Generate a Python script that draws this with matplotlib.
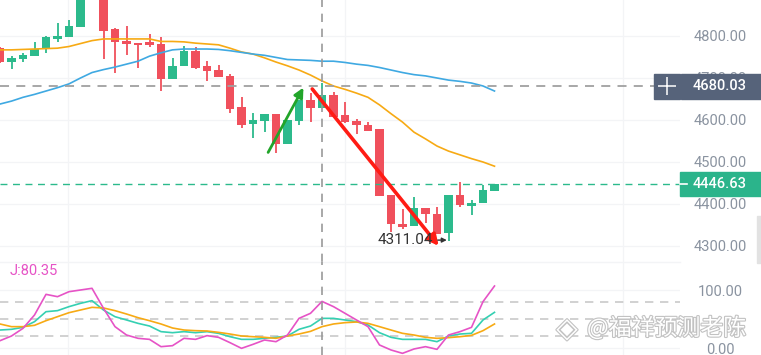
import matplotlib
matplotlib.use('Agg')
import matplotlib.pyplot as plt
import matplotlib.patheffects as pe
from matplotlib.patches import Rectangle
from matplotlib.transforms import blended_transform_factory
import numpy as np

# candles, one per bar index
opens = [4771, 4738, 4745, 4752, 4769, 4793, 4798, 4821, 4905, 4915, 4817, 4788, 4783, 4786, 4781,
         4698, 4729, 4764, 4729, 4719, 4705, 4631, 4590, 4598, 4614, 4543, 4598, 4648, 4629, 4660,
         4612, 4598, 4588, 4579, 4421, 4352, 4348, 4390, 4376, 4331, 4421, 4395, 4402, 4431]
highs = [4773, 4752, 4760, 4786, 4800, 4831, 4838, 4915, 4935, 4930, 4818, 4824, 4784, 4805, 4798,
         4748, 4776, 4774, 4740, 4731, 4710, 4655, 4617, 4614, 4614, 4600, 4648, 4664, 4688, 4667,
         4643, 4602, 4595, 4579, 4421, 4388, 4417, 4390, 4393, 4421, 4452, 4410, 4445, 4447]
lows = [4736, 4721, 4738, 4752, 4760, 4786, 4798, 4821, 4895, 4745, 4712, 4755, 4724, 4774, 4669,
        4698, 4729, 4721, 4693, 4702, 4617, 4581, 4557, 4571, 4521, 4543, 4588, 4595, 4629, 4607,
        4593, 4567, 4574, 4419, 4333, 4340, 4348, 4355, 4329, 4311.04, 4393, 4374, 4402, 4431]
closes = [4738, 4748, 4755, 4769, 4798, 4800, 4824, 4905, 4915, 4812, 4786, 4781, 4779, 4779, 4698,
          4729, 4764, 4724, 4717, 4702, 4626, 4588, 4600, 4614, 4543, 4600, 4648, 4629, 4660, 4607,
          4595, 4588, 4574, 4419, 4352, 4345, 4390, 4376, 4329, 4421, 4398, 4402, 4433, 4446.63]

ma_short = [4767, 4767, 4768, 4769, 4770, 4771, 4775, 4782, 4789, 4793, 4793, 4793, 4793, 4793, 4787,
            4787, 4786, 4783, 4781, 4779, 4771, 4762, 4757, 4748, 4738, 4729, 4719, 4707, 4693, 4681,
            4673, 4664, 4654, 4636, 4615, 4595, 4571, 4555, 4538, 4526, 4517, 4508, 4500, 4490]
ma_long = [4638, 4645, 4654, 4661, 4669, 4677, 4686, 4700, 4713, 4720, 4726, 4733, 4740, 4752, 4760,
           4767, 4769, 4769, 4769, 4768, 4765, 4761, 4757, 4754, 4749, 4744, 4743, 4742, 4740, 4740,
           4737, 4733, 4730, 4725, 4719, 4713, 4708, 4705, 4700, 4695, 4692, 4688, 4681, 4669]

k_vals = [31.0, 32.2, 35.6, 45.4, 62.6, 64.4, 71.3, 77.0, 81.6, 65.5, 54.0, 48.3, 42.5, 37.9, 28.2,
          26.4, 28.2, 26.4, 28.2, 25.3, 19.5, 14.9, 14.9, 16.7, 18.4, 20.7, 32.2, 37.9, 51.1, 51.1,
          48.3, 45.4, 39.7, 26.4, 18.4, 14.9, 14.9, 14.9, 10.9, 20.7, 24.1, 25.3, 48.3, 61.5]
d_vals = [41.4, 36.8, 36.8, 39.1, 47.1, 54.0, 60.9, 65.5, 70.1, 69.0, 64.4, 58.6, 52.3, 47.1, 41.4,
          34.5, 31.0, 29.9, 29.3, 27.0, 24.1, 20.7, 19.5, 18.4, 16.7, 20.7, 24.1, 28.7, 36.8, 41.4,
          43.7, 44.8, 42.5, 36.8, 31.0, 25.3, 22.4, 18.4, 16.7, 17.8, 19.5, 21.8, 29.9, 41.4]
j_vals = [12.6, 20.7, 33.9, 56.9, 92.5, 88.5, 97.1, 100.0, 102.9, 68.4, 36.8, 22.4, 16.7, 14.9, 2.3,
          4.0, 16.7, 14.9, 21.3, 18.4, 9.2, -0.6, 6.3, 13.8, 10.9, 22.4, 51.1, 59.8, 80.35, 71.3,
          59.8, 48.3, 36.8, 5.2, -3.4, -9.2, -1.7, 2.3, -2.3, 22.4, 28.2, 35.6, 79.9, 106.9]

price_ticks = [4300, 4400, 4500, 4600, 4700, 4800]
kdj_ticks = [0, 100]
kdj_levels = [20, 50, 80]
time_grid = [5.9, 30.0, 54.2]

cross_idx = 28
cross_price = 4680.03
last_price = closes[-1]
low_idx = 39
green_arrow = [(23.2, 4517), (26.5, 4683)]
red_arrow = [(27.0, 4679), (38.3, 4295)]

UP = '#2cba8c'
DOWN = '#f0505c'
GRID = '#f3f4f6'
LABEL = '#8a93a0'
FONT = 'Roboto'

W, H = 761, 355
fig = plt.figure(figsize=(W / 100, H / 100), dpi=100)
fig.patch.set_facecolor('white')
ax = fig.add_axes([0, (H - 262) / H, 680 / W, 262 / H])
ax2 = fig.add_axes([0, 0, 680 / W, 93 / H], sharex=ax)

x = np.arange(len(opens))
o = np.array(opens); c = np.array(closes)
cols = [UP if cc >= oo else DOWN for oo, cc in zip(o, c)]
ax.vlines(x, lows, highs, colors=cols, lw=1.3, zorder=3)
ax.bar(x, np.maximum(np.abs(c - o), 2.0), bottom=np.minimum(o, c), width=0.72, color=cols, zorder=4)

ax.plot(x, ma_short, color='#f7aa14', lw=1.2, zorder=5)
ax.plot(x, ma_long, color='#3fa9e2', lw=1.2, zorder=5)

ax.set_xlim(0, 680 / 11.5)
ax.set_ylim(4800 - 226 / 0.42, 4800 + 36 / 0.42)

for a in (ax, ax2):
    for s in a.spines.values():
        s.set_visible(False)
    a.set_xticks(time_grid)
    a.grid(True, color=GRID, lw=0.9)
    a.set_axisbelow(True)
    a.yaxis.tick_right()
    a.tick_params(axis='x', length=0, labelbottom=False)
    a.tick_params(axis='y', length=0, pad=29, labelcolor=LABEL, labelsize=10.5)

ax.set_yticks(price_ticks)
ax.set_yticklabels([f'{t:.2f}' for t in price_ticks], family=FONT)
for lbl in ax.get_yticklabels():
    lbl.set_ha('center')

# crosshair
ax.axvline(cross_idx, color='#999999', lw=1.2, dashes=(5, 4), zorder=6)
ax2.axvline(cross_idx, color='#999999', lw=1.2, dashes=(5, 4), zorder=6)
ax.plot([0, 654 / 11.5], [cross_price, cross_price], color='#a0a0a0', lw=1.3, dashes=(5, 4), zorder=6)

# last price line
ax.axhline(last_price, color=UP, lw=1.0, dashes=(5, 4), zorder=6)

bt = blended_transform_factory(ax.transAxes, ax.transData)
half = 12.5 / 0.42
ax.add_patch(Rectangle((654 / 680, cross_price - half), 25.5 / 680, 2 * half, transform=bt,
                       color='#56637a', clip_on=False, zorder=20))
ax.add_patch(Rectangle((680.5 / 680, cross_price - half), 81 / 680, 2 * half, transform=bt,
                       color='#56637a', clip_on=False, zorder=20))
ax.plot([667 / 680], [cross_price], marker='+', ms=13, mew=1.1, color='white', transform=bt,
        clip_on=False, zorder=21)
ax.text(720 / 680, cross_price, f'{cross_price:.2f}', transform=bt, ha='center', va='center',
        color='white', fontsize=10.5, family=FONT, fontweight='medium', clip_on=False, zorder=21)

half2 = 12.0 / 0.42
ax.add_patch(Rectangle((1.0, last_price - half2), 81 / 680, 2 * half2, transform=bt,
                       color='#2bb48b', clip_on=False, zorder=20))
ax.plot([1.0, 687 / 680], [last_price, last_price], color='white', lw=1.2, transform=bt,
        clip_on=False, zorder=21)
ax.text(720 / 680, last_price, f'{last_price:.2f}', transform=bt, ha='center', va='center',
        color='white', fontsize=10.5, family=FONT, fontweight='medium', clip_on=False, zorder=21)

# drawn arrows
ax.annotate('', xy=green_arrow[1], xytext=green_arrow[0],
            arrowprops=dict(arrowstyle='-|>', color='#22a52a', lw=2.0, mutation_scale=14), zorder=8)
ax.annotate('', xy=red_arrow[1], xytext=red_arrow[0],
            arrowprops=dict(arrowstyle='-|>', color='#ff1c14', lw=2.6, mutation_scale=16), zorder=8)

# lowest low marker
ax.annotate(f'{lows[low_idx]:.2f}', xy=(low_idx - 0.15, lows[low_idx] + 3),
            xytext=(low_idx - 1.3, lows[low_idx] + 3), ha='right', va='center',
            fontsize=11, family=FONT, color='#333333',
            arrowprops=dict(arrowstyle='-|>', color='#333333', lw=1.0, mutation_scale=7,
                            shrinkA=1, shrinkB=0), zorder=9)

# KDJ panel
ax2.plot(x, k_vals, color='#35d0b2', lw=1.2, zorder=5)
ax2.plot(x, d_vals, color='#f7aa14', lw=1.2, zorder=5)
ax2.plot(x, j_vals, color='#e653c6', lw=1.2, zorder=5)
for lv in kdj_levels:
    ax2.axhline(lv, color='#c9c9c9', lw=1.2, dashes=(5, 4), zorder=2)
ax2.set_ylim((348 - 355) / 0.58, (348 - 262) / 0.58)
ax2.set_yticks(kdj_ticks)
ax2.set_yticklabels([f'{t:.2f}' for t in kdj_ticks], family=FONT)
for lbl in ax2.get_yticklabels():
    lbl.set_ha('center')
ax2.axhline(ax2.get_ylim()[1], color=GRID, lw=1.0, clip_on=False)
ax2.text(10 / 680, 1 - 9 / 93, f'J:{j_vals[cross_idx]:.2f}', transform=ax2.transAxes,
         ha='left', va='center', color='#e653c6', fontsize=10.5, family=FONT)

# watermark
outline = [pe.withStroke(linewidth=1.6, foreground='#c2c2c2')]
fig.text(567 / W, 1 - 329 / H, '◈', ha='center', va='center', fontsize=20, color='white',
         family=['DejaVu Sans'], path_effects=outline)
fig.text(587 / W, 1 - 328 / H, '@福祥预测老陈', ha='left', va='center', fontsize=16.5, color='white',
         family=['Noto Sans CJK SC', 'DejaVu Sans'], path_effects=outline)

fig.patches.append(Rectangle((757 / W, 1 - 263 / H), 6 / W, 47 / H, transform=fig.transFigure,
                             color='#e2e2e2', zorder=1))

fig.savefig('out.png', dpi=100)
